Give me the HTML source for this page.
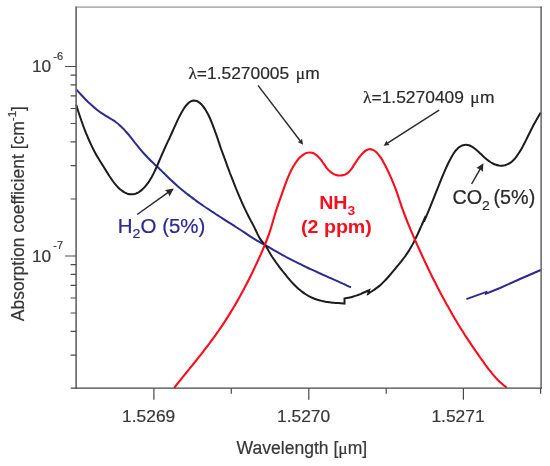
<!DOCTYPE html>
<html><head><meta charset="utf-8"><title>Absorption coefficient</title>
<style>
html,body{margin:0;padding:0;background:#fff;}
body{width:550px;height:466px;overflow:hidden;}
svg{display:block;}
text{font-family:"Liberation Sans",sans-serif;fill:#363636;stroke:#363636;stroke-width:0.2px;}
.sym{font-family:"Liberation Serif",serif;}
</style></head>
<body>
<svg width="550" height="466" viewBox="0 0 550 466">
<rect width="550" height="466" fill="#fff"/>
<!-- curves -->
<g fill="none" stroke-linejoin="miter" stroke-linecap="butt">
<path d="M76.2,89.4C76.9,90.1 78.9,92.4 80.2,93.8C81.5,95.2 82.8,96.6 84.2,98.0C85.5,99.4 86.8,100.7 88.1,102.0C89.5,103.2 90.8,104.5 92.1,105.6C93.5,106.8 94.8,108.0 96.1,109.0C97.4,110.1 98.8,111.1 100.1,112.1C101.4,113.0 102.8,113.9 104.1,114.7C105.4,115.6 106.7,116.3 108.1,117.1C109.4,117.9 110.7,118.7 112.0,119.5C113.4,120.4 114.7,121.2 116.0,122.2C117.4,123.2 118.7,124.2 120.0,125.4C121.3,126.6 122.7,128.0 124.0,129.4C125.3,130.8 126.6,132.4 128.0,134.0C129.3,135.6 130.6,137.3 132.0,138.9C133.3,140.6 134.6,142.3 135.9,144.0C137.3,145.7 138.6,147.3 139.9,148.9C141.2,150.5 142.6,152.1 143.9,153.5C145.2,155.0 146.6,156.4 147.9,157.7C149.2,159.1 150.5,160.4 151.9,161.7C153.2,162.9 154.5,164.2 155.9,165.4C157.2,166.7 158.5,167.9 159.8,169.2C161.2,170.5 162.5,171.8 163.8,173.0C165.1,174.3 166.5,175.7 167.8,177.0C169.1,178.3 170.5,179.6 171.8,180.8C173.1,182.1 174.4,183.3 175.8,184.5C177.1,185.7 178.4,186.9 179.7,188.0C181.1,189.1 182.4,190.2 183.7,191.2C185.1,192.3 186.4,193.4 187.7,194.4C189.0,195.4 190.4,196.4 191.7,197.4C193.0,198.4 194.4,199.4 195.7,200.4C197.0,201.4 198.3,202.3 199.7,203.3C201.0,204.2 202.3,205.1 203.6,206.0C205.0,206.9 206.3,207.8 207.6,208.7C209.0,209.6 210.3,210.5 211.6,211.4C212.9,212.2 214.3,213.1 215.6,214.0C216.9,214.8 218.2,215.7 219.6,216.5C220.9,217.4 222.2,218.2 223.6,219.1C224.9,219.9 226.2,220.7 227.5,221.6C228.9,222.4 230.2,223.3 231.5,224.1C232.8,225.0 234.2,225.8 235.5,226.7C236.8,227.6 238.2,228.4 239.5,229.3C240.8,230.2 242.1,231.1 243.5,231.9C244.8,232.8 246.1,233.7 247.5,234.6C248.8,235.5 250.1,236.3 251.4,237.2C252.8,238.0 254.1,238.9 255.4,239.6C256.7,240.4 258.1,241.2 259.4,241.9C260.7,242.7 262.1,243.4 263.4,244.1C264.7,244.9 266.0,245.6 267.4,246.3C268.7,247.1 270.0,247.8 271.3,248.6C272.7,249.4 274.0,250.1 275.3,250.9C276.7,251.6 278.0,252.4 279.3,253.2C280.6,253.9 282.0,254.7 283.3,255.4C284.6,256.1 286.0,256.9 287.3,257.6C288.6,258.3 289.9,259.0 291.3,259.7C292.6,260.4 293.9,261.1 295.2,261.7C296.6,262.4 297.9,263.1 299.2,263.7C300.6,264.4 301.9,265.0 303.2,265.6C304.5,266.3 305.9,266.9 307.2,267.5C308.5,268.2 309.8,268.8 311.2,269.4C312.5,270.0 313.8,270.6 315.2,271.2C316.5,271.8 317.8,272.4 319.1,273.0C320.5,273.6 321.8,274.2 323.1,274.8C324.4,275.4 325.8,276.0 327.1,276.6C328.4,277.2 329.8,277.8 331.1,278.3C332.4,278.9 333.7,279.5 335.1,280.1C336.4,280.7 337.7,281.3 339.1,281.9C340.4,282.5 341.7,283.1 343.0,283.7C344.4,284.3 345.7,284.9 347.0,285.6C348.3,286.2 350.3,287.1 351.0,287.4" stroke="#2d2a8f" stroke-width="2.0"/>
<path d="M466.4,299.1L486.3,291.9L486.0,293.7L500,288L520,279L540.8,270" stroke="#2d2a8f" stroke-width="2.0"/>
<path d="M76.2,104.8C76.7,106.4 78.2,111.2 79.2,114.3C80.2,117.3 81.2,120.2 82.2,123.0C83.2,125.8 84.2,128.5 85.2,131.1C86.2,133.7 87.3,136.1 88.3,138.5C89.3,140.8 90.3,143.0 91.3,145.2C92.3,147.3 93.3,149.3 94.3,151.2C95.3,153.1 96.3,154.9 97.3,156.6C98.3,158.3 99.3,159.9 100.3,161.5C101.3,163.1 102.3,164.7 103.3,166.3C104.3,167.9 105.3,169.5 106.3,171.1C107.4,172.7 108.4,174.4 109.4,176.0C110.4,177.5 111.4,179.1 112.4,180.5C113.4,181.9 114.4,183.2 115.4,184.4C116.4,185.6 117.4,186.7 118.4,187.7C119.4,188.7 120.4,189.6 121.4,190.3C122.4,191.1 123.4,191.8 124.4,192.4C125.4,192.9 126.4,193.4 127.4,193.7C128.5,194.0 129.5,194.2 130.5,194.3C131.5,194.4 132.5,194.4 133.5,194.2C134.5,194.0 135.5,193.8 136.5,193.3C137.5,192.9 138.5,192.4 139.5,191.7C140.5,191.1 141.5,190.3 142.5,189.3C143.5,188.4 144.5,187.3 145.5,186.1C146.5,184.9 147.5,183.6 148.6,182.1C149.6,180.6 150.6,178.9 151.6,177.2C152.6,175.4 153.6,173.5 154.6,171.4C155.6,169.3 156.6,167.0 157.6,164.8C158.6,162.5 159.6,160.0 160.6,157.7C161.6,155.4 162.6,153.1 163.6,150.8C164.6,148.6 165.6,146.4 166.6,144.2C167.6,142.1 168.6,139.9 169.7,137.7C170.7,135.5 171.7,133.3 172.7,131.0C173.7,128.8 174.7,126.5 175.7,124.3C176.7,122.1 177.7,120.0 178.7,117.9C179.7,115.9 180.7,114.0 181.7,112.2C182.7,110.5 183.7,108.8 184.7,107.4C185.7,106.0 186.7,104.7 187.7,103.7C188.7,102.7 189.8,101.9 190.8,101.3C191.8,100.8 192.8,100.5 193.8,100.4C194.8,100.4 195.8,100.6 196.8,101.0C197.8,101.4 198.8,102.0 199.8,102.9C200.8,103.7 201.8,104.7 202.8,106.0C203.8,107.2 204.8,108.6 205.8,110.2C206.8,111.9 207.8,113.7 208.8,115.8C209.8,117.9 210.9,120.4 211.9,122.9C212.9,125.5 213.9,128.2 214.9,130.9C215.9,133.7 216.9,136.4 217.9,139.3C218.9,142.2 219.9,145.6 220.9,148.5C221.9,151.3 222.9,153.8 223.9,156.5C224.9,159.3 225.9,162.0 226.9,164.8C227.9,167.5 228.9,170.3 229.9,173.0C230.9,175.6 232.0,178.3 233.0,180.9C234.0,183.4 235.0,186.0 236.0,188.5C237.0,190.9 238.0,193.3 239.0,195.7C240.0,198.0 241.0,200.3 242.0,202.6C243.0,204.8 244.0,207.0 245.0,209.1C246.0,211.2 247.0,213.3 248.0,215.3C249.0,217.3 250.0,219.2 251.0,221.1C252.1,223.1 253.1,224.9 254.1,226.9C255.1,228.9 256.1,231.1 257.1,233.1C258.1,235.1 259.1,237.3 260.1,238.9C261.1,240.5 262.1,241.4 263.1,242.7C264.1,243.9 265.1,244.9 266.1,246.4C267.1,247.9 268.1,249.9 269.1,251.7C270.1,253.4 271.1,255.2 272.1,256.8C273.2,258.4 274.2,259.8 275.2,261.2C276.2,262.7 277.2,264.0 278.2,265.3C279.2,266.7 280.2,268.0 281.2,269.3C282.2,270.6 283.2,271.9 284.2,273.2C285.2,274.5 286.2,275.7 287.2,276.9C288.2,278.1 289.2,279.3 290.2,280.4C291.2,281.5 292.2,282.6 293.3,283.7C294.3,284.7 295.3,285.8 296.3,286.7C297.3,287.7 298.3,288.6 299.3,289.5C300.3,290.3 301.3,291.2 302.3,291.9C303.3,292.7 304.3,293.4 305.3,294.0C306.3,294.7 307.3,295.3 308.3,295.9C309.3,296.4 310.3,296.9 311.3,297.4C312.3,297.9 313.3,298.3 314.4,298.7C315.4,299.1 316.4,299.4 317.4,299.8C318.4,300.1 319.4,300.4 320.4,300.6C321.4,300.9 322.4,301.1 323.4,301.3C324.4,301.5 325.4,301.7 326.4,301.9C327.4,302.0 328.4,302.2 329.4,302.3C330.4,302.4 331.4,302.5 332.4,302.7C333.4,302.8 334.5,302.8 335.5,302.9C336.5,303.0 337.5,303.1 338.5,303.1C339.5,303.2 340.5,303.3 341.5,303.3C342.5,303.4 344.0,303.5 344.5,303.6L344.5,298.5C345.2,298.4 347.2,298.1 348.6,297.8C350.0,297.5 351.4,297.2 352.7,296.8C354.1,296.4 355.5,295.9 356.9,295.4C358.2,294.9 359.6,294.4 361.0,293.8C362.3,293.2 363.7,292.6 365.1,292.0C366.5,291.4 368.5,290.4 369.2,290.1L368.2,293.8C368.9,293.4 370.9,292.0 372.3,291.0C373.7,290.1 375.0,289.2 376.4,288.1C377.8,287.1 379.2,286.1 380.5,284.9C381.9,283.7 383.3,282.3 384.6,280.9C386.0,279.5 387.4,278.0 388.7,276.5C390.1,274.9 391.5,273.3 392.8,271.7C394.2,270.1 395.6,268.4 396.9,266.7C398.3,265.0 399.7,263.4 401.1,261.7C402.4,259.9 403.8,258.2 405.2,256.2C406.5,254.3 407.9,252.3 409.3,250.1C410.6,247.9 412.0,245.5 413.4,242.9C414.7,240.3 416.1,237.4 417.5,234.5C418.9,231.6 420.2,228.4 421.6,225.4C423.0,222.3 425.0,217.7 425.7,216.1L424.0,221.7C424.5,220.5 426.0,217.0 427.0,214.6C428.0,212.2 429.0,209.8 430.0,207.3C431.0,204.8 432.0,202.3 433.0,199.8C434.0,197.3 435.0,194.8 436.0,192.3C437.0,189.8 438.0,187.3 439.0,184.8C440.0,182.3 441.0,179.9 442.0,177.4C443.0,175.0 444.0,172.6 445.0,170.3C446.0,168.0 447.0,165.8 448.0,163.7C449.0,161.6 450.0,159.7 451.0,157.9C452.0,156.1 453.0,154.4 453.9,153.0C454.9,151.6 455.9,150.3 456.9,149.3C457.9,148.2 458.9,147.3 459.9,146.7C460.9,146.0 461.9,145.5 462.9,145.2C463.9,144.9 464.9,144.7 465.9,144.7C466.9,144.7 467.9,144.9 468.9,145.2C469.9,145.6 470.9,146.1 471.9,146.6C472.9,147.2 473.9,147.9 474.9,148.7C475.9,149.5 476.9,150.4 477.9,151.3C478.9,152.2 479.9,153.2 480.9,154.1C481.9,155.0 482.9,156.0 483.9,156.9C484.9,157.8 485.9,158.7 486.9,159.5C487.9,160.3 488.9,161.1 489.9,161.7C490.9,162.4 491.9,163.0 492.9,163.5C493.9,164.0 494.9,164.4 495.9,164.7C496.9,165.1 497.9,165.3 498.9,165.5C499.9,165.6 500.9,165.7 501.9,165.7C502.9,165.6 503.9,165.5 504.9,165.3C505.9,165.0 506.9,164.7 507.9,164.2C508.9,163.7 509.9,163.1 510.9,162.4C511.8,161.6 512.8,160.7 513.8,159.7C514.8,158.7 515.8,157.5 516.8,156.1C517.8,154.8 518.8,153.3 519.8,151.6C520.8,150.0 521.8,148.2 522.8,146.4C523.8,144.5 524.8,142.5 525.8,140.6C526.8,138.6 527.8,136.6 528.8,134.5C529.8,132.5 530.8,130.5 531.8,128.5C532.8,126.6 533.8,124.6 534.8,122.8C535.8,120.9 536.8,119.1 537.8,117.4C538.8,115.7 540.3,113.4 540.8,112.6" stroke="#1c1c1c" stroke-width="2.0"/>
<path d="M174.1,387.9C174.6,387.3 176.1,385.4 177.1,384.1C178.1,382.9 179.1,381.7 180.1,380.4C181.1,379.2 182.1,377.9 183.1,376.7C184.1,375.5 185.1,374.2 186.1,373.0C187.1,371.8 188.1,370.5 189.1,369.3C190.1,368.1 191.1,366.8 192.1,365.6C193.1,364.4 194.1,363.1 195.1,361.9C196.1,360.6 197.1,359.4 198.1,358.1C199.1,356.8 200.1,355.6 201.1,354.3C202.1,353.0 203.1,351.7 204.1,350.4C205.1,349.1 206.1,347.8 207.1,346.5C208.1,345.2 209.1,343.9 210.1,342.5C211.1,341.2 212.1,339.8 213.1,338.4C214.1,337.1 215.1,335.7 216.1,334.3C217.1,332.9 218.1,331.4 219.1,330.0C220.1,328.5 221.1,327.1 222.1,325.6C223.1,324.1 224.1,322.6 225.1,321.1C226.1,319.6 227.1,318.0 228.1,316.4C229.1,314.9 230.0,313.3 231.0,311.6C232.0,310.0 233.0,308.4 234.0,306.7C235.0,305.0 236.0,303.3 237.0,301.6C238.0,299.8 239.0,298.1 240.0,296.3C241.0,294.5 242.0,292.7 243.0,290.8C244.0,288.9 245.0,287.0 246.0,285.1C247.0,283.2 248.0,281.2 249.0,279.2C250.0,277.3 251.0,275.2 252.0,273.2C253.0,271.1 254.0,269.0 255.0,266.9C256.0,264.8 257.0,262.7 258.0,260.5C259.0,258.3 260.0,256.1 261.0,253.8C262.0,251.5 263.0,249.2 264.0,246.9C265.0,244.5 266.0,242.1 267.0,239.5C268.0,236.8 269.0,234.2 270.0,231.1C271.0,228.0 272.0,224.4 273.0,221.0C274.0,217.6 275.0,214.0 276.0,210.9C277.0,207.7 278.0,205.0 279.0,202.2C280.0,199.3 281.0,196.5 282.0,193.7C283.0,190.8 284.0,187.9 285.0,185.2C286.0,182.5 287.0,179.8 288.0,177.4C289.0,175.0 290.0,172.8 291.0,170.8C292.0,168.8 293.0,166.9 294.0,165.3C295.0,163.6 296.0,162.2 297.0,160.8C298.0,159.5 299.0,158.4 300.0,157.3C301.0,156.3 302.0,155.5 303.0,154.8C304.0,154.1 305.0,153.5 306.0,153.1C307.0,152.7 308.0,152.5 309.0,152.5C310.0,152.4 311.0,152.5 312.0,152.8C313.0,153.1 314.0,153.5 315.0,154.1C316.0,154.7 317.0,155.5 318.0,156.5C319.0,157.5 320.0,158.7 321.0,159.9C322.0,161.2 323.0,162.8 324.0,164.1C325.0,165.5 326.0,167.1 327.0,168.3C328.0,169.5 329.0,170.6 330.0,171.5C331.0,172.4 332.0,173.1 333.0,173.7C334.0,174.3 335.0,174.7 336.0,175.0C337.0,175.3 338.0,175.5 339.0,175.5C340.0,175.6 340.9,175.5 341.9,175.4C342.9,175.2 343.9,175.0 344.9,174.6C345.9,174.2 346.9,173.7 347.9,172.9C348.9,172.0 349.9,170.9 350.9,169.6C351.9,168.3 352.9,166.7 353.9,165.2C354.9,163.7 355.9,162.0 356.9,160.6C357.9,159.1 358.9,157.7 359.9,156.4C360.9,155.2 361.9,154.0 362.9,153.0C363.9,152.0 364.9,151.1 365.9,150.5C366.9,149.9 367.9,149.4 368.9,149.2C369.9,149.0 370.9,149.1 371.9,149.4C372.9,149.7 373.9,150.2 374.9,151.0C375.9,151.7 376.9,152.7 377.9,153.9C378.9,155.0 379.9,156.4 380.9,157.9C381.9,159.4 382.9,161.1 383.9,162.9C384.9,164.7 385.9,166.7 386.9,168.7C387.9,170.7 388.9,172.9 389.9,175.1C390.9,177.4 391.9,179.6 392.9,182.1C393.9,184.5 394.9,187.0 395.9,189.7C396.9,192.4 397.9,195.5 398.9,198.5C399.9,201.4 400.9,204.5 401.9,207.4C402.9,210.2 403.9,212.9 404.9,215.5C405.9,218.2 406.9,220.7 407.9,223.2C408.9,225.6 409.9,228.0 410.9,230.4C411.9,232.7 412.9,235.0 413.9,237.3C414.9,239.6 415.9,241.9 416.9,244.1C417.9,246.4 418.9,248.6 419.9,250.8C420.9,253.0 421.9,255.2 422.9,257.4C423.9,259.5 424.9,261.7 425.9,263.8C426.9,265.9 427.9,268.0 428.9,270.0C429.9,272.1 430.9,274.1 431.9,276.2C432.9,278.2 433.9,280.2 434.9,282.1C435.9,284.1 436.9,286.1 437.9,288.0C438.9,289.9 439.9,291.8 440.9,293.7C441.9,295.5 442.9,297.4 443.9,299.2C444.9,301.1 445.9,302.9 446.9,304.7C447.9,306.5 448.9,308.2 449.9,310.0C450.9,311.7 451.8,313.4 452.8,315.2C453.8,316.9 454.8,318.6 455.8,320.2C456.8,321.9 457.8,323.5 458.8,325.2C459.8,326.8 460.8,328.4 461.8,330.0C462.8,331.6 463.8,333.2 464.8,334.8C465.8,336.3 466.8,337.9 467.8,339.4C468.8,340.9 469.8,342.4 470.8,343.9C471.8,345.4 472.8,346.9 473.8,348.4C474.8,349.9 475.8,351.3 476.8,352.7C477.8,354.2 478.8,355.6 479.8,357.0C480.8,358.4 481.8,359.8 482.8,361.2C483.8,362.6 484.8,363.9 485.8,365.3C486.8,366.6 487.8,368.0 488.8,369.3C489.8,370.6 490.8,371.8 491.8,373.1C492.8,374.3 493.8,375.5 494.8,376.6C495.8,377.8 496.8,378.9 497.8,379.9C498.8,380.9 499.8,381.9 500.8,382.8C501.8,383.7 502.8,384.6 503.8,385.4C504.8,386.1 506.3,387.1 506.8,387.5" stroke="#fb0d1c" stroke-width="2.1"/>
</g>
<!-- frame -->
<path d="M76.1,388.7V6.6" fill="none" stroke="#646464" stroke-width="1.6"/>
<path d="M75.3,7.1H541.8" fill="none" stroke="#7c7c7c" stroke-width="1"/>
<path d="M541.1,6.6V388.7" fill="none" stroke="#585858" stroke-width="1.4"/>
<path d="M70.7,388.2H541.8" fill="none" stroke="#444" stroke-width="1.2"/>
<path d="M65.1,66.5H76.1M65.1,256.0H76.1M70.6,199.0H76.1M70.6,165.6H76.1M70.6,141.9H76.1M70.6,123.5H76.1M70.6,108.5H76.1M70.6,95.9H76.1M70.6,84.9H76.1M70.6,75.2H76.1M70.6,355.1H76.1M70.6,331.4H76.1M70.6,313.0H76.1M70.6,298.0H76.1M70.6,285.4H76.1M70.6,274.4H76.1M70.6,264.7H76.1M153.9,388.2V399.7M231.3,388.2V393.7M308.8,388.2V399.7M386.2,388.2V393.7M463.4,388.2V399.7M540.6,388.2V393.7" fill="none" stroke="#4a4a4a" stroke-width="1.2"/>
<!-- arrows -->
<path d="M258.0,85.4L300.9,141.7" fill="none" stroke="#2a2a2a" stroke-width="1.45"/><path d="M303.1,144.7L297.7,142.1L300.2,140.9L302.0,138.8Z" fill="#2a2a2a"/>
<path d="M439.1,110.2L386.7,143.7" fill="none" stroke="#2a2a2a" stroke-width="1.45"/><path d="M383.6,145.7L386.6,140.6L387.6,143.1L389.5,145.1Z" fill="#2a2a2a"/>
<path d="M137.2,214.5L169.2,191.7" fill="none" stroke="#2a2a2a" stroke-width="1.5"/><path d="M173.8,188.5L169.6,196.4L167.9,192.7L165.0,189.9Z" fill="#2a2a2a"/>
<path d="M471.6,184.0L480.8,167.9" fill="none" stroke="#2a2a2a" stroke-width="1.5"/><path d="M483.4,163.3L482.9,171.7L480.0,169.2L476.4,168.1Z" fill="#2a2a2a"/>
<!-- labels -->
<text transform="translate(117.8,232.5) scale(1.05,1)" font-size="19.5" style="fill:#2d2a8f;stroke:#2d2a8f">H<tspan font-size="13.6" dy="5.8">2</tspan><tspan dy="-5.8">O (5%)</tspan></text>
<text transform="translate(452.4,204) scale(1.025,1)" font-size="19.3" style="fill:#2a2a2a;stroke:#2a2a2a">C<tspan>O</tspan><tspan font-size="13.6" dy="5.8">2</tspan><tspan dy="-5.8" dx="3.6">(5%)</tspan></text>
<text x="188.4" y="78.6" font-size="17.4" style="fill:#2a2a2a;stroke:#2a2a2a"><tspan class="sym">λ</tspan>=1.5270005 <tspan class="sym" dx="1.6">μ</tspan><tspan dx="0.4">m</tspan></text>
<text x="363.1" y="102.5" font-size="17.4" style="fill:#2a2a2a;stroke:#2a2a2a"><tspan class="sym">λ</tspan>=1.5270409 <tspan class="sym" dx="1.6">μ</tspan><tspan dx="0.4">m</tspan></text>
<text transform="translate(319.2,209) scale(1.05,1)" font-size="18.7" font-weight="bold" style="fill:#f5101e;stroke:none">NH<tspan font-size="13.2" dy="5.6">3</tspan></text>
<text transform="translate(301,233.3) scale(1.05,1)" font-size="18.7" font-weight="bold" style="fill:#f5101e;stroke:none">(2 ppm)</text>
<!-- tick labels -->
<text x="148.7" y="421.5" font-size="17.4" text-anchor="middle">1.5269</text>
<text x="303.6" y="421.5" font-size="17.4" text-anchor="middle">1.5270</text>
<text x="458" y="421.5" font-size="17.4" text-anchor="middle">1.5271</text>
<text x="31.9" y="72.4" font-size="17.3">10<tspan font-size="11" dy="-12.5" dx="2.2">-6</tspan></text>
<text x="31.9" y="261.5" font-size="17.3">10<tspan font-size="11" dy="-12.5" dx="2.2">-7</tspan></text>
<!-- axis titles -->
<text x="236.6" y="453.7" font-size="17.55">Wavelength [<tspan class="sym">μ</tspan>m]</text>
<text transform="translate(24.2,321.2) rotate(-90)" font-size="17.5">Absorption coefficient [cm<tspan font-size="11.5" dy="-8.2">-1</tspan><tspan dy="8.2">]</tspan></text>
</svg>
</body></html>
